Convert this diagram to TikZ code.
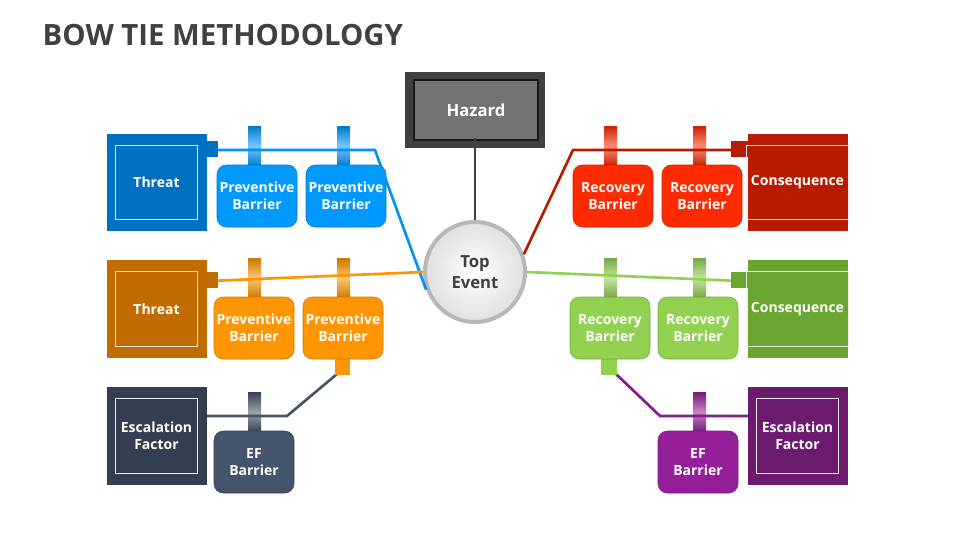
\documentclass[tikz,border=0pt]{standalone}
\usepackage{fontspec}
\setmainfont{Open Sans}
\begin{document}
\begin{tikzpicture}[x=0.75pt,y=-0.75pt,
  txt/.style={text=white,font=\bfseries\fontsize{10.5}{13}\selectfont,align=center},
  barrier/.style={txt,rounded corners=7pt,minimum width=60pt,minimum height=46.5pt,inner sep=0pt,draw=#1!80!black,fill=#1},
  mainbox/.style={txt,minimum width=75pt,minimum height=73pt,inner sep=0pt,fill=#1},
  innerbox/.style={draw=white!85!gray,line width=0.8pt,minimum width=61pt,minimum height=56pt},
  link/.style={line width=2pt},
]
\definecolor{tblue}{HTML}{0070C0}\definecolor{bblue}{HTML}{0099FF}\definecolor{lblue}{HTML}{0094F0}
\definecolor{torange}{HTML}{C06C00}\definecolor{borange}{HTML}{FF9500}
\definecolor{tnavy}{HTML}{333F50}\definecolor{bnavy}{HTML}{44546A}
\definecolor{cred}{HTML}{B81C00}\definecolor{bred}{HTML}{FF2A00}
\definecolor{cgreen}{HTML}{6AA531}\definecolor{bgreen}{HTML}{92D050}
\definecolor{cpurp}{HTML}{6B1A6E}\definecolor{bpurp}{HTML}{951F99}
\definecolor{title}{HTML}{404040}
\useasboundingbox (0,0) rectangle (960,540);
\fill[white] (0,0) rectangle (960,540);
\node[anchor=west,text=title,font=\bfseries\fontsize{22}{26}\selectfont] (ttl) at (38,35) {BOW TIE METHODOLOGY};
% hazard
\node[fill=black!75,minimum width=105pt,minimum height=57pt,inner sep=0pt] (hzo) at (475,110) {};
\node[fill=black!55,draw=black!90,line width=1pt,minimum width=93pt,minimum height=45pt,txt,font=\bfseries\fontsize{12.5}{15}\selectfont] (hz) at (476,110) {Hazard};
% top event
\coordinate (hzb) at (475,138);
\node[circle,minimum size=75pt,inner sep=0pt,draw=black!28,line width=3pt,inner color=white,outer color=black!12,font=\bfseries\fontsize{12.5}{16}\selectfont,text=black!75,align=center] (te) at (475,272) {Top\\Event};
\draw[line width=1.5pt,black!75] (hzb) -- (te.north);
% stems
\foreach \x/\y/\c in {254/126/bblue,343/126/bblue,254/258/borange,343/258/borange,254/392/bnavy,610/126/bred,699/126/bred,610/258/bgreen,699/258/bgreen,699/392/bpurp}{
  \shade[top color=\c!80!black,bottom color=\c!80!black,middle color=\c!55!white] (\x-6,\y) rectangle (\x+7,\y+40);
}
% left lines
\coordinate (l1) at (375,150);
\coordinate (r1) at (573,150);
\coordinate (e1) at (287,416);
\coordinate (e2) at (660,416);
\draw[link,lblue] (210,150) -- (l1) -- (te.200);
\draw[link,borange] (210,281) -- (te.west);
\draw[link,cred] (740,150) -- (r1) -- (te.20);
\draw[link,bgreen] (740,281) -- (te.east);
\draw[link,bnavy] (203,416) -- (e1) -- (337,374);
\draw[link,bpurp!90!black] (748,416) -- (e2) -- (616,374);
% tabs
\fill[tblue] (203,141) rectangle (218,157);
\fill[torange] (203,272) rectangle (218,288);
\fill[cred] (731,141) rectangle (748,157);
\fill[cgreen] (731,272) rectangle (748,288);
\fill[borange] (335,358) rectangle (350,375);
\fill[bgreen] (601,358) rectangle (617,375);
% main boxes
\foreach \n/\x/\y/\c/\t in {t1/156.5/182.5/tblue/Threat,t2/156.5/309/torange/Threat,ef1/156.5/436/tnavy/{Escalation\\Factor},c1/797.5/182.5/cred/Consequence,c2/797.5/309/cgreen/Consequence,ef2/797.5/436/cpurp/{Escalation\\Factor}}{
  \node[mainbox=\c] (\n) at (\x,\y) {};
  \node[innerbox,txt] (\n i) at (\x,\y) {\t};
}
% barriers
\node[barrier=bblue] (p1) at (257,196) {Preventive\\Barrier};
\node[barrier=bblue] (p2) at (346,196) {Preventive\\Barrier};
\node[barrier=borange] (p3) at (254,328) {Preventive\\Barrier};
\node[barrier=borange] (p4) at (343,328) {Preventive\\Barrier};
\node[barrier=bnavy] (p5) at (254,462) {EF\\Barrier};
\node[barrier=bred] (r1b) at (613,196) {Recovery\\Barrier};
\node[barrier=bred] (r2b) at (702,196) {Recovery\\Barrier};
\node[barrier=bgreen] (r3b) at (610,328) {Recovery\\Barrier};
\node[barrier=bgreen] (r4b) at (698,328) {Recovery\\Barrier};
\node[barrier=bpurp] (r5b) at (698,462) {EF\\Barrier};
\end{tikzpicture}
\end{document}
